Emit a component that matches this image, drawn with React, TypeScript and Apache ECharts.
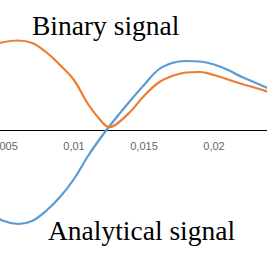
import React, { useEffect, useRef } from "react";
import * as echarts from "echarts";

const xValues = [0.004, 0.005, 0.006, 0.007, 0.008, 0.009, 0.010, 0.011, 0.012, 0.0125, 0.013, 0.014, 0.015, 0.016, 0.017, 0.018, 0.019, 0.020, 0.021, 0.022, 0.023, 0.024];
const binarySignal = [0.84, 0.88, 0.895, 0.87, 0.78, 0.65, 0.50, 0.26, 0.08, 0.03, 0.055, 0.18, 0.34, 0.47, 0.54, 0.575, 0.58, 0.55, 0.505, 0.46, 0.42, 0.375];
const analyticalX = [0.004, 0.005, 0.006, 0.007, 0.008, 0.009, 0.010, 0.011, 0.012, 0.013, 0.014, 0.015, 0.016, 0.017, 0.018, 0.019, 0.020, 0.021, 0.022, 0.023, 0.024];
const analyticalSignal = [-0.83, -0.91, -0.94, -0.91, -0.81, -0.67, -0.49, -0.26, -0.06, 0.12, 0.29, 0.45, 0.60, 0.67, 0.69, 0.685, 0.655, 0.60, 0.53, 0.47, 0.41];
const labels = ["Binary signal", "Analytical signal"];

export default function App() {
  const ref = useRef<HTMLDivElement>(null);
  useEffect(() => {
    if (!ref.current) return;
    const chart = echarts.init(ref.current, null, { renderer: "svg" });
    chart.setOption({
      animation: false,
      grid: { left: 14, right: 16, top: 30, bottom: 37, containLabel: false },
      xAxis: {
        type: "value",
        min: 0,
        max: 0.025,
        interval: 0.005,
        position: "bottom",
        offset: -100,
        axisLine: { show: true, onZero: false, lineStyle: { color: "#000", width: 1 } },
        axisTick: { show: false },
        splitLine: { show: false },
        axisLabel: {
          color: "#666",
          fontSize: 11,
          fontFamily: "Liberation Sans",
          margin: 10,
          showMaxLabel: false,
          showMinLabel: false,
          formatter: (v: number) => String(+v.toFixed(4)).replace(".", ","),
        },
      },
      yAxis: { type: "value", min: -1, max: 1, show: false },
      series: [
        {
          type: "line",
          data: analyticalX.map((x, i) => [x, analyticalSignal[i]]),
          smooth: 0.4,
          symbol: "none",
          lineStyle: { color: "#5B9BD5", width: 2.2 },
          z: 2,
        },
        {
          type: "line",
          data: xValues.map((x, i) => [x, binarySignal[i]]),
          smooth: 0.4,
          symbol: "none",
          lineStyle: { color: "#ED7D31", width: 2.2 },
          z: 3,
        },
      ],
      graphic: [
        {
          type: "text",
          x: 112,
          y: 25,
          style: { text: labels[0], font: "27.5px 'Liberation Serif'", fill: "#000", verticalAlign: "middle" },
        },
        {
          type: "text",
          x: 128,
          y: 230,
          style: { text: labels[1], font: "27.5px 'Liberation Serif'", fill: "#000", verticalAlign: "middle" },
        },
      ],
    });
    return () => chart.dispose();
  }, []);
  return (
    <div style={{ position: "fixed", left: 0, top: 0, width: 267, height: 267, overflow: "hidden", background: "#fff" }}>
      <div ref={ref} style={{ position: "absolute", left: -80, top: 0, width: 380, height: 267 }} />
    </div>
  );
}
